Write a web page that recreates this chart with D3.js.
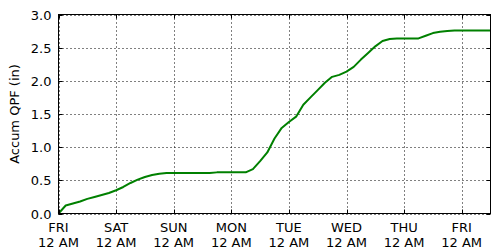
<!DOCTYPE html>
<html><head><meta charset="utf-8">
<script src="https://cdn.jsdelivr.net/npm/d3@7"></script>
<style>body{margin:0;background:#fff}svg{display:block}text{font-family:"DejaVu Sans",sans-serif;}</style>
</head><body><svg id="c" width="499" height="250"></svg>
<script>
const hours = [0,3,6,9,12,15,18,21,24,27,30,33,36,39,42,45,48,51,54,57,60,63,66,69,72,75,78,81,84,87,90,93,96,99,102,105,108,111,114,117,120,123,126,129,132,135,138,141,144,147,150,153,156,159,162,165,168,171,174,177,180];
const qpf = [0,0.12,0.15,0.18,0.22,0.25,0.28,0.31,0.35,0.40,0.46,0.51,0.55,0.58,0.60,0.61,0.61,0.61,0.61,0.61,0.61,0.61,0.62,0.62,0.62,0.62,0.62,0.67,0.79,0.92,1.13,1.29,1.38,1.46,1.64,1.75,1.86,1.97,2.06,2.09,2.14,2.21,2.32,2.42,2.52,2.60,2.63,2.64,2.64,2.64,2.64,2.68,2.72,2.74,2.75,2.76,2.76,2.76,2.76,2.76,2.76];
const xTickHours = [0,24,48,72,96,120,144,168];
const xTickDays = ["FRI","SAT","SUN","MON","TUE","WED","THU","FRI"];
const xTickTimes = ["12 AM","12 AM","12 AM","12 AM","12 AM","12 AM","12 AM","12 AM"];
const yTicks = [0,0.5,1.0,1.5,2.0,2.5,3.0];
const yLabel = "Accum QPF (in)";

const L=58.5,R=490.5,T=14.5,B=213.5;
const svg=d3.select("#c");
const x=d3.scaleLinear().domain([0,180]).range([L,R]);
const y=d3.scaleLinear().domain([0,3]).range([B,T]);

// grid
svg.append("g").selectAll("line").data(xTickHours).join("line")
 .attr("x1",d=>Math.round(x(d))+0.5).attr("x2",d=>Math.round(x(d))+0.5).attr("y1",T).attr("y2",B)
 .attr("stroke","#000").attr("stroke-dasharray","1,3").attr("stroke-width",1);
svg.append("g").selectAll("line").data(yTicks).join("line")
 .attr("y1",d=>Math.round(y(d))+0.5).attr("y2",d=>Math.round(y(d))+0.5).attr("x1",L).attr("x2",R)
 .attr("stroke","#000").attr("stroke-dasharray","1,3").attr("stroke-width",1);

// line
svg.append("path").datum(hours.map((h,i)=>[h,qpf[i]]))
 .attr("d",d3.line().x(d=>x(d[0])).y(d=>y(d[1])))
 .attr("fill","none").attr("stroke","#008000").attr("stroke-width",2).attr("stroke-linejoin","round");

// ticks inward on all sides
const tk=svg.append("g").attr("stroke","#000");
xTickHours.forEach(h=>{const xx=Math.round(x(h))+0.5;
 tk.append("line").attr("x1",xx).attr("x2",xx).attr("y1",B).attr("y2",B-4);
 tk.append("line").attr("x1",xx).attr("x2",xx).attr("y1",T).attr("y2",T+4);});
yTicks.forEach(v=>{const yy=Math.round(y(v))+0.5;
 tk.append("line").attr("x1",L).attr("x2",L+4).attr("y1",yy).attr("y2",yy);
 tk.append("line").attr("x1",R).attr("x2",R-4).attr("y1",yy).attr("y2",yy);});

svg.append("rect").attr("x",L).attr("y",T).attr("width",R-L).attr("height",B-T)
 .attr("fill","none").attr("stroke","#000").attr("stroke-width",1);

// labels
svg.append("g").selectAll("text").data(yTicks).join("text")
 .attr("x",L-7).attr("y",d=>y(d)+5).attr("text-anchor","end").attr("font-size",13)
 .text(d=>d.toFixed(1));
const xl=svg.append("g");
xTickHours.forEach((h,i)=>{
 xl.append("text").attr("x",x(h)).attr("y",231.5).attr("text-anchor","middle").attr("font-size",13).text(xTickDays[i]);
 xl.append("text").attr("x",x(h)).attr("y",246.5).attr("text-anchor","middle").attr("font-size",13).text(xTickTimes[i]);
});
svg.append("text").attr("transform","translate(18.5,"+((T+B)/2)+") rotate(-90)")
 .attr("text-anchor","middle").attr("font-size",13).text(yLabel);
</script></body></html>
